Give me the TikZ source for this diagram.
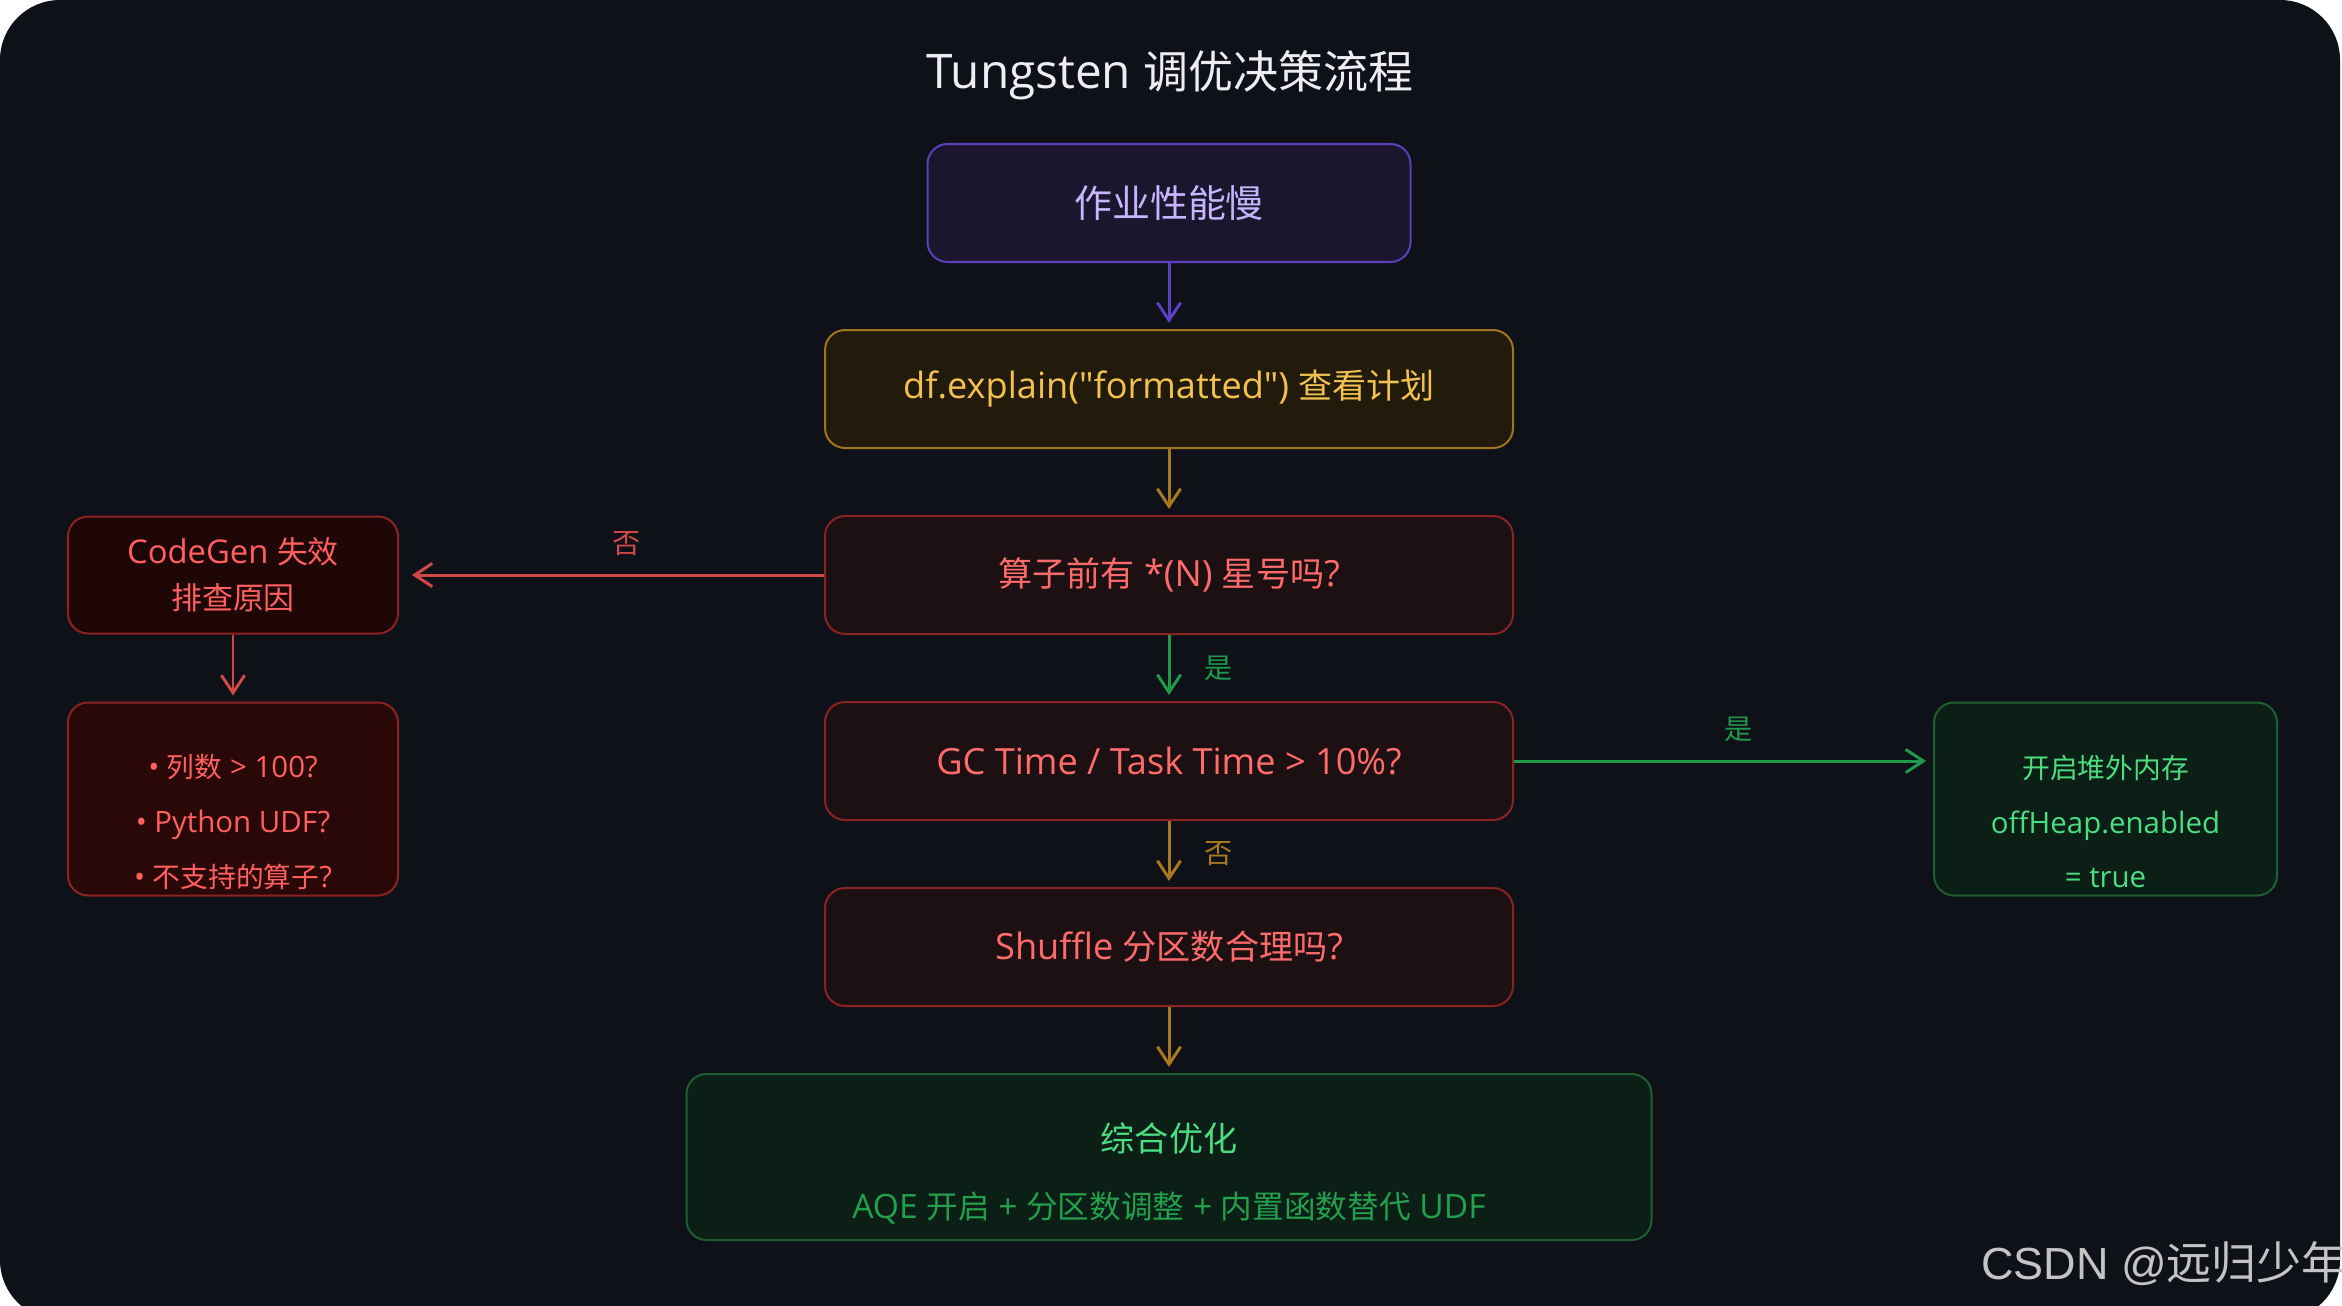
\documentclass[tikz,border=0pt]{standalone}
\usepackage{fontspec}
\setmainfont{Open Sans}[Scale=1.06,Ligatures=TeXOff]
\newfontfamily\cjk{Noto Sans CJK SC}
\newfontfamily\wmfont{Liberation Sans}
\usetikzlibrary{positioning,arrows.meta}
\definecolor{bgdark}{HTML}{0F1118}
\definecolor{titlewhite}{HTML}{EEEEF2}
\definecolor{startfill}{HTML}{1B162E}
\definecolor{startline}{HTML}{5B3FBF}
\definecolor{starttext}{HTML}{C4B5FD}
\definecolor{planfill}{HTML}{221B0C}
\definecolor{planline}{HTML}{A0741C}
\definecolor{plantext}{HTML}{F2C14E}
\definecolor{askfill}{HTML}{1C1012}
\definecolor{askline}{HTML}{8C2323}
\definecolor{asktext}{HTML}{FF6B6B}
\definecolor{failfill}{HTML}{1F0707}
\definecolor{causefill}{HTML}{2A0808}
\definecolor{failtext}{HTML}{FF5F5F}
\definecolor{okfill}{HTML}{0C1F17}
\definecolor{okline}{HTML}{1E5E30}
\definecolor{oktext}{HTML}{4ADE80}
\definecolor{notetext}{HTML}{22A04B}
\definecolor{purplearrow}{HTML}{5B3FC4}
\definecolor{goldarrow}{HTML}{A8781F}
\definecolor{greenarrow}{HTML}{1F9A4A}
\definecolor{redarrow}{HTML}{D04848}
\definecolor{wmgray}{HTML}{C4C4C4}

\begin{document}
\begin{tikzpicture}[shorten >=0.06cm,node distance=1.86cm,on grid,auto,
   >={Straight Barb[length=5pt,width=6.6pt]},
   box/.style={draw,rounded corners=0.2cm,line width=0.57pt,minimum width=6.88cm,minimum height=1.18cm,align=center},
   startbox/.style={box,minimum width=4.83cm,fill=startfill,draw=startline,text=starttext,font=\fontsize{10.8pt}{13pt}\selectfont},
   planbox/.style={box,fill=planfill,draw=planline,text=plantext,font=\fontsize{9.7pt}{12pt}\selectfont},
   askbox/.style={box,fill=askfill,draw=askline,text=asktext,font=\fontsize{9.7pt}{12pt}\selectfont},
   failbox/.style={box,minimum width=3.30cm,minimum height=1.17cm,fill=failfill,draw=askline,text=failtext,font=\fontsize{8.8pt}{13.1pt}\selectfont},
   okbox/.style={box,fill=okfill,draw=okline},
   listtext/.style={align=center,font=\fontsize{7.9pt}{15.6pt}\selectfont},
   tag/.style={inner sep=0.18cm,font=\fontsize{8pt}{10pt}\selectfont\cjk},
   flow/.style={line width=0.85pt}]
   \useasboundingbox (0,0) rectangle (23.42,-13.05);
   \fill[bgdark,rounded corners=0.6cm] (0,0) rectangle (23.40,-13.2);

   \node[text=titlewhite,font=\fontsize{12.8pt}{15pt}\selectfont] (title) at (11.70,-0.75) {Tungsten {\cjk 调优决策流程}};

   \node[startbox] (slow) at (11.69,-2.03) {{\cjk 作业性能慢}};
   \node[planbox] (plan) [below=of slow] {df.explain("formatted") {\cjk 查看计划}};
   \node[askbox] (star) [below=of plan] {{\cjk 算子前有} *(N) {\cjk 星号吗}?};
   \node[askbox] (gc) [below=of star] {GC Time / Task Time > 10\%?};
   \node[askbox] (shuffle) [below=of gc] {Shuffle {\cjk 分区数合理吗}?};
   \node[okbox,minimum width=9.65cm,minimum height=1.66cm] (tune) [below=2.1cm of shuffle] {};
   \node[text=oktext,font=\fontsize{9.7pt}{12pt}\selectfont\cjk] (tunetitle) [above=0.19cm of tune] {综合优化};
   \node[text=notetext,font=\fontsize{9pt}{11pt}\selectfont] (tunenote) [below=0.51cm of tune] {AQE {\cjk 开启} + {\cjk 分区数调整} + {\cjk 内置函数替代} UDF};

   \node[failbox] (codegen) [left=9.36cm of star] {CodeGen {\cjk 失效}\\{\cjk 排查原因}};
   \node[failbox,fill=causefill,minimum height=1.93cm] (causes) [below=2.24cm of codegen] {};
   \node[listtext,text=failtext] (causelist) [below=0.23cm of causes] {• {\cjk 列数} > 100?\\• Python UDF?\\• {\cjk 不支持的算子}?};

   \node[okbox,minimum width=3.43cm,minimum height=1.93cm] (offheap) [below right=0.38cm and 9.365cm of gc] {};
   \node[listtext,text=oktext] (offheaplist) [below=0.225cm of offheap] {{\cjk 开启堆外内存}\\offHeap.enabled\\= true};

   \path[->,flow]
   (slow) edge[draw=purplearrow] (plan)
   (plan) edge[draw=goldarrow] (star)
   (star) edge[draw=greenarrow] node[tag,text=greenarrow,xshift=0.16cm] {是} (gc)
   (gc) edge[draw=goldarrow] node[tag,text=goldarrow,xshift=0.16cm] {否} (shuffle)
   (shuffle) edge[draw=goldarrow] (tune)
   (star) edge[draw=redarrow,shorten >=0.13cm] node[tag,swap,text=redarrow,pos=0.465] {否} (codegen)
   (codegen) edge[draw=redarrow] (causes)
   (gc.east) edge[draw=greenarrow,shorten >=0.07cm] node[tag,text=greenarrow,pos=0.536] {是} (gc.east -| offheap.west);

   \node[text=wmgray,font=\fontsize{12.8pt}{15pt}\selectfont\wmfont] (watermark) at (21.64,-12.64) {CSDN @{\cjk 远归少年}};
\end{tikzpicture}
\end{document}
